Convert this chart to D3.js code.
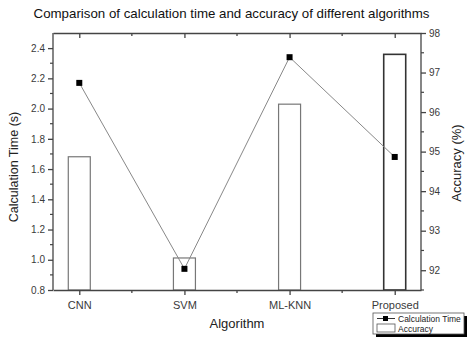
<!DOCTYPE html>
<html><head><meta charset="utf-8">
<script src="https://cdn.jsdelivr.net/npm/d3@7"></script>
<style>body{margin:0;background:#fff}svg{display:block}text{font-family:"Liberation Sans",Arial,sans-serif}</style>
</head><body>
<script>
const categories = ["CNN","SVM","ML-KNN","Proposed"];
const calcTime = [2.17, 0.94, 2.34, 1.68];
const accuracy = [94.87, 92.31, 96.2, 97.46];
const leftTicks = [0.8,1.0,1.2,1.4,1.6,1.8,2.0,2.2,2.4];
const rightTicks = [92,93,94,95,96,97,98];

const W=474,H=347;
const m={l:53,r:421,t:33,b:290};
const svg=d3.select("body").append("svg").attr("width",W).attr("height",H);
const x=d3.scalePoint().domain(categories).range([m.l,m.r]).padding(0.25);
const yL=d3.scaleLinear().domain([0.8,2.5]).range([m.b,m.t]);
const yR=d3.scaleLinear().domain([91.5,98]).range([m.b,m.t]);
const axisCol="#444", txtCol="#3a3a3a";

// bars
const bw=22;
svg.selectAll("rect.bar").data(categories).enter().append("rect")
  .attr("x",d=>x(d)-bw/2).attr("width",bw)
  .attr("y",(d,i)=>yR(accuracy[i])).attr("height",(d,i)=>m.b-yR(accuracy[i]))
  .attr("fill","none").attr("stroke",(d,i)=>i==3?"#333":"#777").attr("stroke-width",(d,i)=>i==3?1.6:1.2);

// line
svg.append("path").datum(categories).attr("fill","none").attr("stroke","#888").attr("stroke-width",1)
  .attr("d",d3.line().x(d=>x(d)).y((d,i)=>yL(calcTime[i])));
svg.selectAll("rect.pt").data(categories).enter().append("rect")
  .attr("x",d=>x(d)-3).attr("y",(d,i)=>yL(calcTime[i])-3).attr("width",6).attr("height",6).attr("fill","#000");

// axes
function styleAxis(g){g.selectAll("path,line").attr("stroke",axisCol).attr("stroke-width",1.3);
  g.selectAll("text").attr("fill",txtCol).style("font-size","10px");}
const gx=svg.append("g").attr("transform",`translate(0,${m.b})`).call(d3.axisBottom(x).tickSize(5).tickSizeOuter(0).tickPadding(6));
styleAxis(gx); gx.selectAll("text").style("font-size","11px");
const gt=svg.append("g").attr("transform",`translate(0,${m.t})`).call(d3.axisTop(x).tickSize(-5).tickSizeOuter(0).tickFormat(""));
styleAxis(gt);
const mids=[];
for(let i=0;i<categories.length-1;i++) mids.push((x(categories[i])+x(categories[i+1]))/2);
mids.forEach(v=>{
  svg.append("line").attr("x1",v).attr("x2",v).attr("y1",m.b).attr("y2",m.b+3).attr("stroke",axisCol).attr("stroke-width",1.3);
  svg.append("line").attr("x1",v).attr("x2",v).attr("y1",m.t).attr("y2",m.t+3).attr("stroke",axisCol).attr("stroke-width",1.3);
});
const gl=svg.append("g").attr("transform",`translate(${m.l},0)`).call(d3.axisLeft(yL).tickValues(leftTicks).tickFormat(d3.format(".1f")).tickSize(5).tickSizeOuter(0).tickPadding(3));
styleAxis(gl);
gl.select("path.domain").attr("d",`M0,${m.b}V${m.t}`);
for(let v=0.9; v<2.5; v+=0.2) svg.append("line").attr("x1",m.l-3).attr("x2",m.l).attr("y1",yL(v)).attr("y2",yL(v)).attr("stroke",axisCol).attr("stroke-width",1.2);
const gr=svg.append("g").attr("transform",`translate(${m.r},0)`).call(d3.axisRight(yR).tickValues(rightTicks).tickFormat(d3.format("d")).tickSize(5).tickSizeOuter(0).tickPadding(3));
styleAxis(gr);
gr.select("path.domain").attr("d",`M0,${m.b}V${m.t}`);
for(let v=91.5; v<98; v+=1) svg.append("line").attr("x1",m.r).attr("x2",m.r+3).attr("y1",yR(v)).attr("y2",yR(v)).attr("stroke",axisCol).attr("stroke-width",1.2);

// titles
svg.append("text").attr("x",231.5).attr("y",18).attr("text-anchor","middle").style("font-size","13.3px").attr("fill","#111")
  .text("Comparison of calculation time and accuracy of different algorithms");
svg.append("text").attr("x",237).attr("y",328).attr("text-anchor","middle").style("font-size","13px").attr("fill","#222").text("Algorithm");
svg.append("text").attr("transform","translate(18,167) rotate(-90)").attr("text-anchor","middle").style("font-size","12.5px").attr("fill","#222").text("Calculation Time (s)");
svg.append("text").attr("transform","translate(461,163) rotate(-90)").attr("text-anchor","middle").style("font-size","13px").attr("fill","#222").text("Accuracy (%)");

// legend
const lg=svg.append("g").attr("transform","translate(373,313)");
lg.append("rect").attr("x",3).attr("y",3).attr("width",91).attr("height",21).attr("fill","#000");
lg.append("rect").attr("x",0).attr("y",0).attr("width",91).attr("height",21).attr("fill","#fff").attr("stroke","#555").attr("stroke-width",0.8);
lg.append("line").attr("x1",4).attr("x2",22).attr("y1",5.5).attr("y2",5.5).attr("stroke","#333");
lg.append("rect").attr("x",10).attr("y",3).attr("width",5).attr("height",5).attr("fill","#000");
lg.append("rect").attr("x",4).attr("y",11).attr("width",18).attr("height",8).attr("fill","none").attr("stroke","#555").attr("stroke-width",0.8);
lg.append("text").attr("x",25).attr("y",9).style("font-size","8.5px").attr("fill","#222").text("Calculation Time");
lg.append("text").attr("x",25).attr("y",18.5).style("font-size","8.5px").attr("fill","#222").text("Accuracy");
</script>
</body></html>
